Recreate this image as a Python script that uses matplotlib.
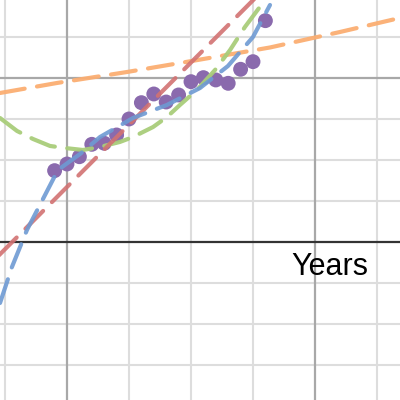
import matplotlib
matplotlib.use("Agg")
import matplotlib.pyplot as plt
import numpy as np

# data points
years = [19, 20, 21, 22, 23, 24, 25, 26, 27, 28, 29, 30, 31, 32, 33, 34, 35, 36]
values = [8.70, 9.51, 10.40, 11.91, 12.04, 13.05, 15.0, 16.99, 18.05, 17.07,
          17.93, 19.55, 20.04, 19.76, 19.35, 21.06, 21.99, 26.99]

# fitted curves
lin_x = [14.0, 36.0]
lin_y = [-2.4, 31.0]

exp_x = [14.60, 19.19, 24.84, 30.56, 36.37, 42.02, 46.85]
exp_y = [18.17, 19.39, 20.73, 22.20, 23.72, 25.61, 27.32]

quad_x = [14.60, 15.97, 17.26, 18.63, 19.84, 21.29, 22.66, 24.27, 25.32, 26.94,
          28.06, 29.11, 30.48, 31.94, 33.15, 34.35, 35.97]
quad_y = [15.12, 13.54, 12.56, 11.71, 11.46, 11.22, 11.59, 12.20, 12.80, 14.02,
          15.24, 16.71, 18.54, 20.98, 23.41, 26.22, 29.51]

cub_x = [14.60, 15.56, 16.77, 17.98, 19.27, 21.05, 22.66, 25.32, 28.06, 30.73,
         32.98, 35.00, 36.37]
cub_y = [-7.44, -3.05, 1.46, 5.00, 8.78, 10.73, 12.80, 15.12, 16.71, 18.78,
         21.46, 25.00, 28.90]

fig = plt.figure(figsize=(4, 4), dpi=100)
ax = fig.add_axes([0, 0, 1, 1])
ax.set_xlim(14.597, 46.855)
ax.set_ylim(-19.27, 29.51)

# grid
for gx in [15, 25, 30, 35, 45]:
    ax.axvline(gx, color="#dddddd", lw=1.5, zorder=0)
for gy in [-15, -10, -5, 5, 10, 15, 25]:
    ax.axhline(gy, color="#dddddd", lw=1.5, zorder=0)
for gx in [20, 40]:
    ax.axvline(gx, color="#a8a8a8", lw=1.6, zorder=0.5)
ax.axhline(20, color="#a8a8a8", lw=1.6, zorder=0.5)
ax.axhline(0, color="#333333", lw=1.6, zorder=0.6)

ax.scatter(years, values, s=115, color="#8a6aad", edgecolors="none", zorder=2)

ls = dict(lw=3, dashes=(6, 3), solid_capstyle="round", dash_capstyle="round", zorder=3)
ax.plot(exp_x, exp_y, color="#fbae72", alpha=0.95, **ls)
ax.plot(quad_x, quad_y, color="#a9cd7a", alpha=0.95, **ls)
ax.plot(lin_x, lin_y, color="#d27272", alpha=0.9, **ls)
ax.plot(cub_x, cub_y, color="#6e9ad3", alpha=0.9, **ls)

ax.text(44.27, -4.02, "Years", fontsize=22, family="Liberation Sans",
        ha="right", va="baseline", color="black")

ax.set_xticks([])
ax.set_yticks([])
for s in ax.spines.values():
    s.set_visible(False)

fig.savefig("out.png", dpi=100)
